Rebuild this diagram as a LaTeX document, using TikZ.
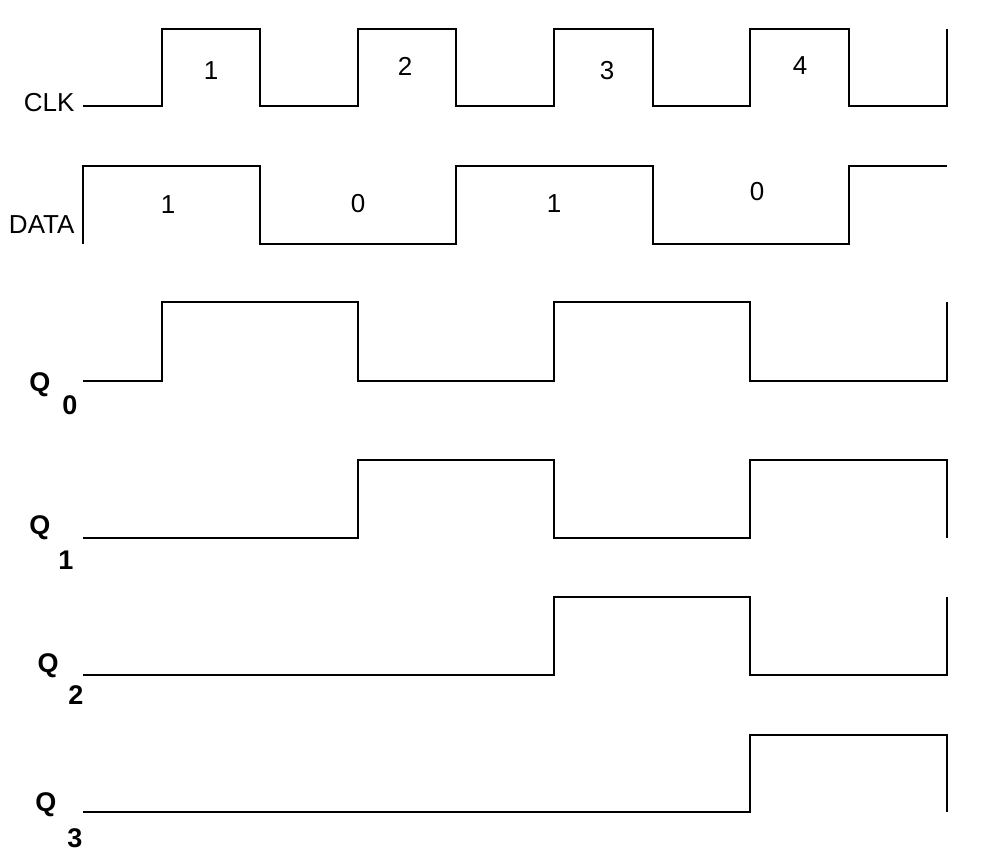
\documentclass[tikz,border=0pt]{standalone}
\usepackage{fontspec}
\setmainfont{Liberation Sans}
\begin{document}
\begin{tikzpicture}[x=1pt,y=-1pt,
  sig/.style={line width=2pt},
  lbl/.style={font=\fontsize{26}{30}\selectfont},
  ql/.style={font=\bfseries\fontsize{27}{30}\selectfont}]
\useasboundingbox (0,0) rectangle (987,856);
\draw[sig] (83,106) -| (162,29) -| (260,106) -| (358,29) -| (456,106) -| (554,29) -| (653,106) -| (750,29) -| (849,106) -| (947,29);
\draw[sig] (83,244) -- (83,166) -| (260,244) -| (456,166) -| (653,244) -| (849,166) -- (947,166);
\draw[sig] (83,381) -| (162,302) -| (358,381) -| (554,302) -| (750,381) -| (947,302);
\draw[sig] (83,538) -| (358,460) -| (554,538) -| (750,460) -| (947,538);
\draw[sig] (83,675) -| (554,597) -| (750,675) -| (947,597);
\draw[sig] (83,812) -| (750,735) -| (947,812);
\node[lbl] (c1) at (211,71) {1};
\node[lbl] (c2) at (405,66) {2};
\node[lbl] (c3) at (607,71) {3};
\node[lbl] (c4) at (800,66) {4};
\node[lbl] (d1) at (168,205) {1};
\node[lbl] (d2) at (358,204) {0};
\node[lbl] (d3) at (554,204) {1};
\node[lbl] (d4) at (757,192) {0};
\node[lbl,anchor=east] (clk) at (78,103) {CLK};
\node[lbl,anchor=east] (data) at (78,225) {DATA};
\node[ql] (q0) at (40,385) {Q};
\node[ql] (s0) at (70,405) {0};
\node[ql] (q1) at (40,528) {Q};
\node[ql] (s1) at (66,560) {1};
\node[ql] (q2) at (48,666) {Q};
\node[ql] (s2) at (76,695) {2};
\node[ql] (q3) at (46,805) {Q};
\node[ql] (s3) at (75,838) {3};
\end{tikzpicture}
\end{document}
